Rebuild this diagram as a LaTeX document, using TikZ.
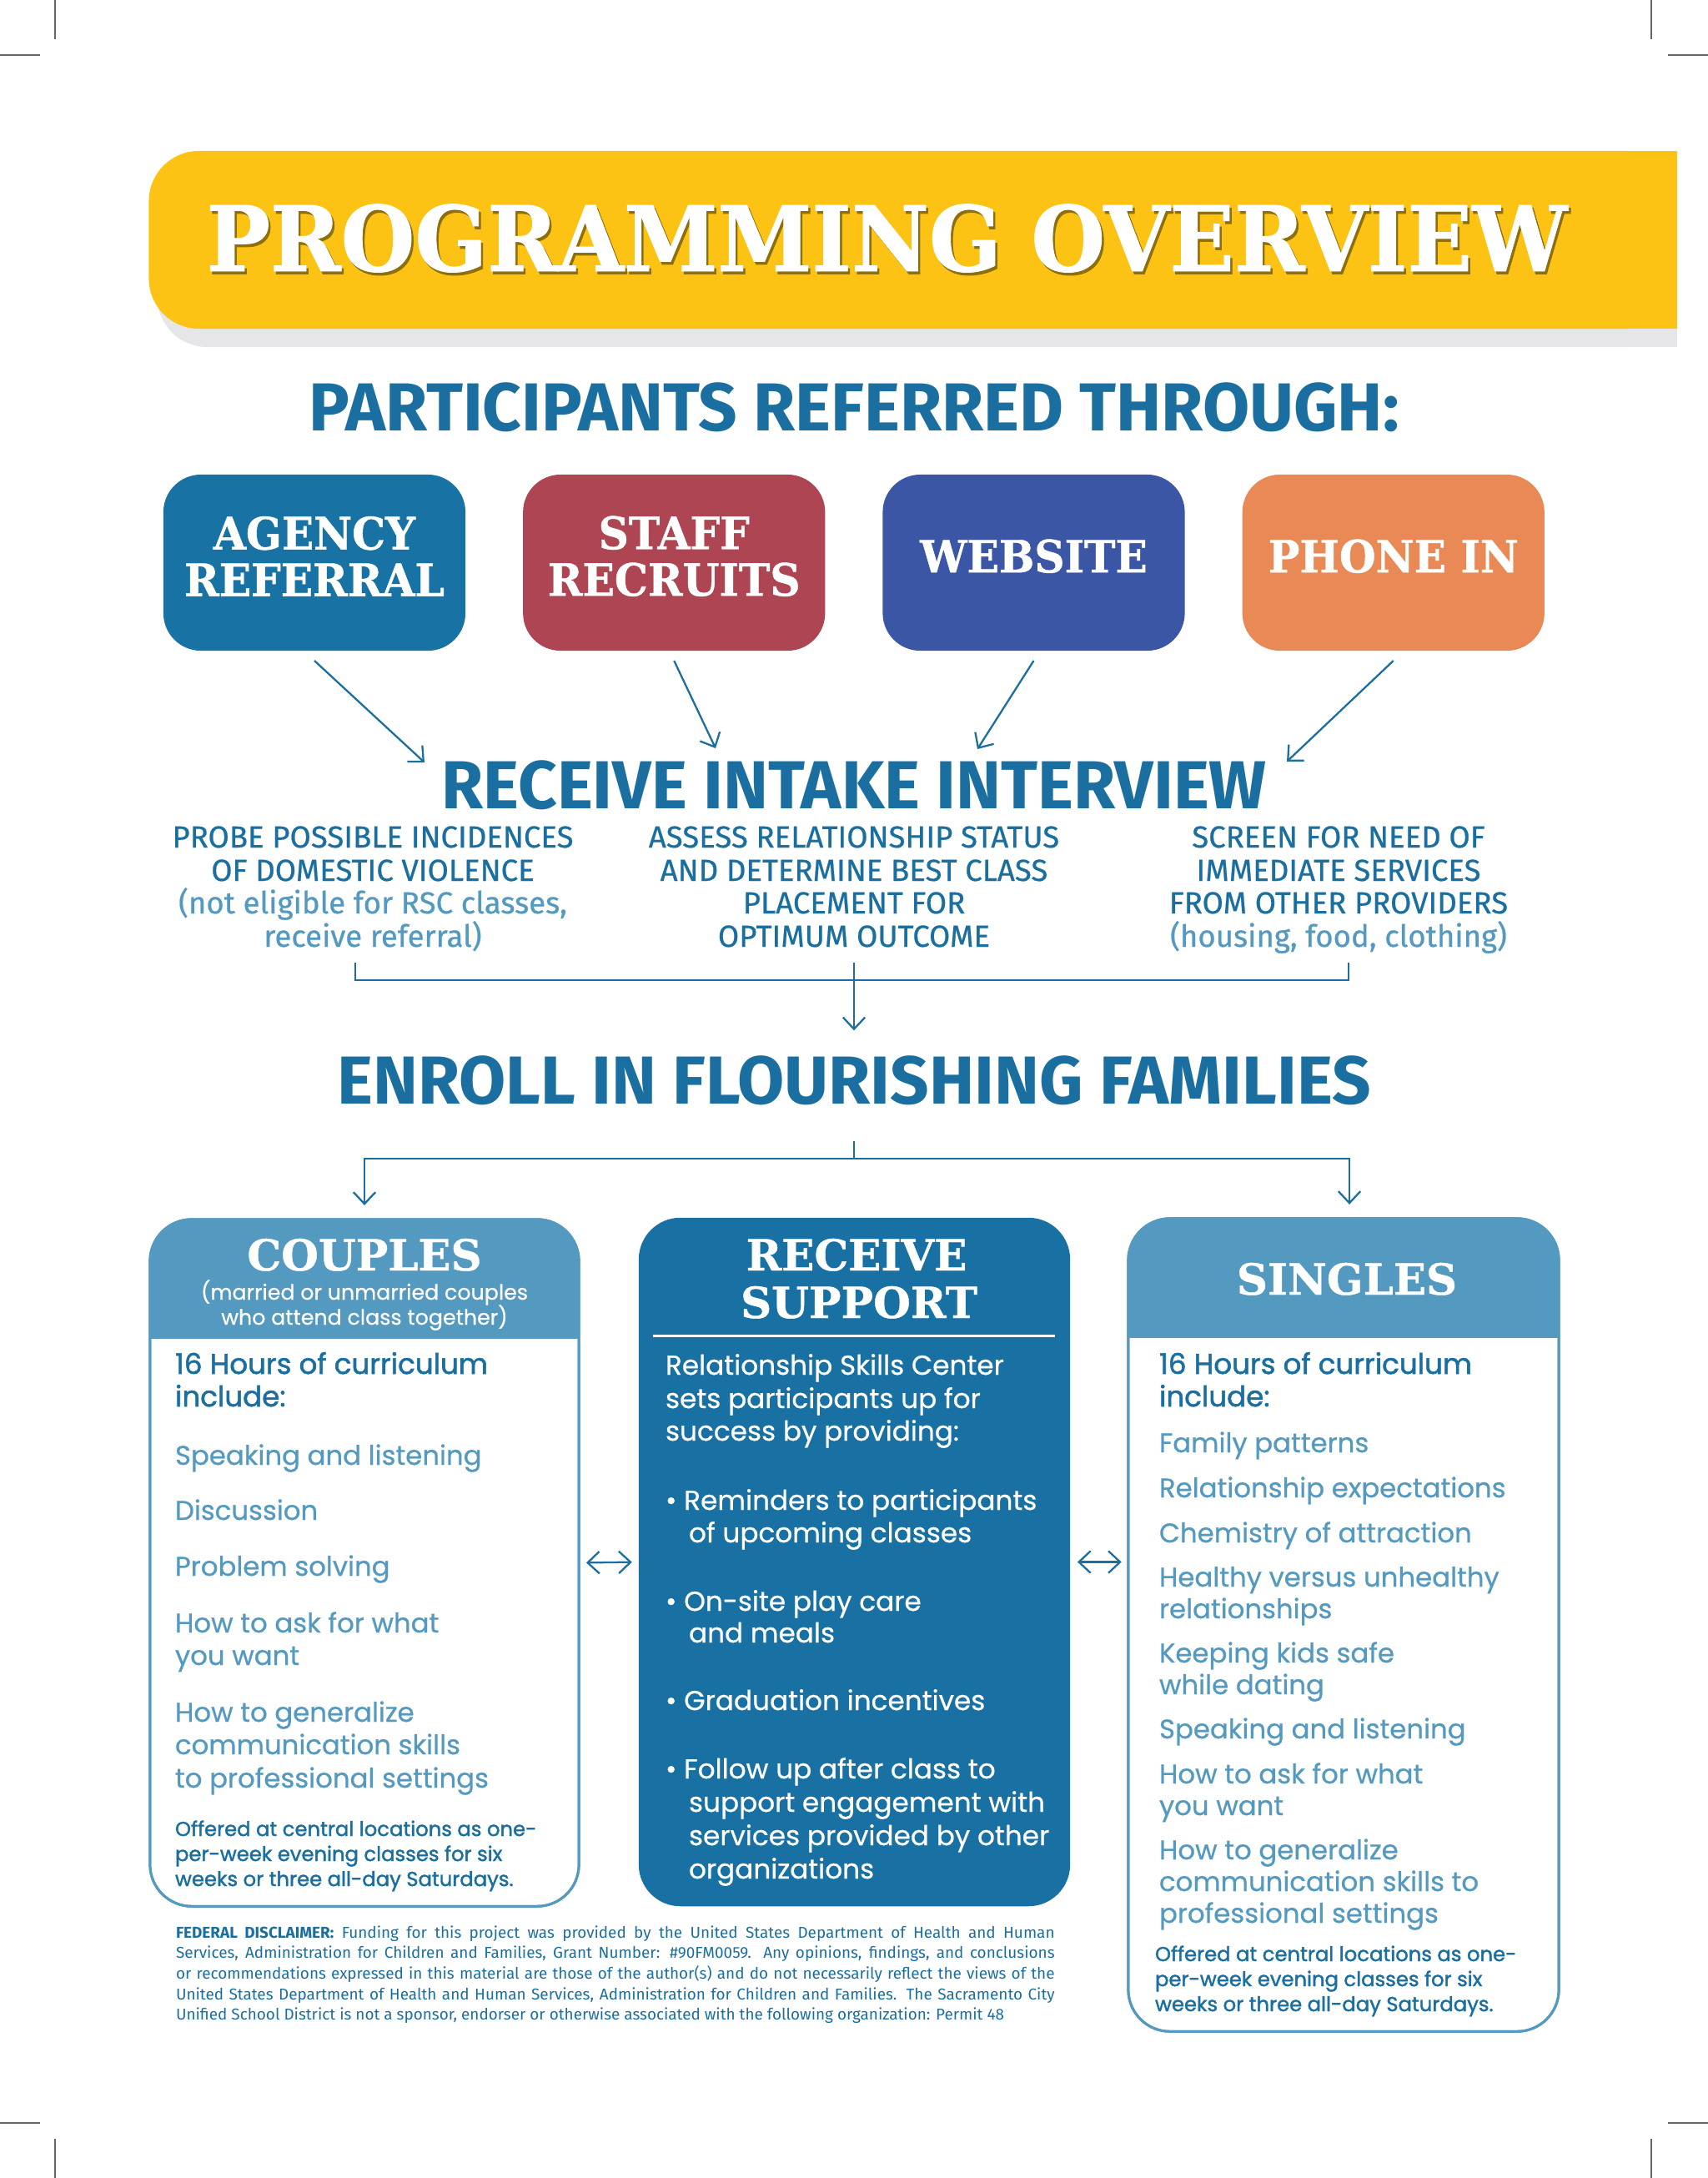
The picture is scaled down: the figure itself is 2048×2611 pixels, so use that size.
\documentclass[tikz,border=0pt]{standalone}
\usepackage{fontspec}
\setmainfont{Poppins}
\newfontfamily\slabfont{DejaVu Serif}[FakeStretch=0.94, FakeBold=0.8]
\newfontfamily\slabwide{DejaVu Serif}[FakeBold=0.8]
\newfontfamily\headfont{Fira Sans}
\newfontfamily\capsfont{Fira Sans}[FakeBold=0.6]
\newfontfamily\medfont{Poppins}[FakeBold=0.6]
\newfontfamily\semifont{Poppins}[FakeBold=1.6]
\usetikzlibrary{arrows.meta, positioning, calc}

\definecolor{bannerc}{HTML}{FCC314}
\definecolor{bannershade}{HTML}{E6E6E8}
\definecolor{titleshade}{HTML}{8E6F0E}
\definecolor{agencyc}{HTML}{1872A4}
\definecolor{staffc}{HTML}{AD4552}
\definecolor{webc}{HTML}{3B56A5}
\definecolor{phonec}{HTML}{E98A56}
\definecolor{inkc}{HTML}{1A6FA0}
\definecolor{softc}{HTML}{5499BF}
\definecolor{supportc}{HTML}{1870A3}
\definecolor{cropc}{HTML}{666666}

\begin{document}
\begin{tikzpicture}[
        x=0.01cm, y=-0.01cm,
        every node/.style={inner sep=0pt, outer sep=0pt},
        titletext/.style={anchor=base, text=white, font=\slabfont\bfseries\fontsize{30.8}{32}\selectfont},
        srcbox/.style={rounded corners=0.45cm, minimum width=3.62cm, minimum height=2.11cm},
        srctext/.style={text=white, align=center, font=\slabfont\bfseries\fontsize{15.2}{15.9}\selectfont},
        heading/.style={anchor=base, text=inkc, font=\headfont\bfseries\fontsize{23.15}{24}\selectfont},
        subline/.style={anchor=base, text=inkc, font=\capsfont\fontsize{10.4}{11}\selectfont},
        softline/.style={subline, text=softc},
        conn/.style={draw=inkc, line width=0.65pt, -{Straight Barb[length=4pt, width=7.5pt]}},
        dbl/.style={conn, {Straight Barb[length=4pt, width=7.5pt]}-{Straight Barb[length=4pt, width=7.5pt]}},
        bracket/.style={draw=inkc, line width=0.65pt},
        classbox/.style={draw=softc, line width=0.85pt, rounded corners=0.5cm},
        classtitle/.style={anchor=base, text=white, font=\slabwide\bfseries\fontsize{14.6}{16.2}\selectfont},
        classsub/.style={anchor=base, text=white, font=\medfont\fontsize{7.2}{8}\selectfont},
        lead/.style={anchor=base west, text=inkc, font=\semifont\fontsize{9.7}{11}\selectfont},
        item/.style={anchor=base west, text=softc, font=\medfont\fontsize{9.2}{11}\selectfont},
        note/.style={anchor=base west, text=inkc, font=\semifont\fontsize{6.9}{8}\selectfont},
        supline/.style={anchor=base west, text=white, font=\medfont\fontsize{9.3}{11}\selectfont}
    ]
    \useasboundingbox (0,0) rectangle (2048,2611);

    % Crop marks
    \foreach \cx/\cy in {66/0, 1980/0, 66/2564, 1980/2564}
        \draw[cropc, line width=0.4pt] (\cx,\cy) -- ++(0,47);
    \foreach \cx/\cy in {0/66, 2000/66, 0/2545, 2000/2545}
        \draw[cropc, line width=0.8pt] (\cx,\cy) -- ++(48,0);

    % Banner
    \node[fill=bannershade, rounded corners=0.6cm, minimum width=18.21cm, minimum height=2.13cm] (banner-shade) at (1099.5,309.5) {};
    \fill[bannershade] (banner-shade.north) rectangle (banner-shade.south east);
    \node[fill=bannerc, rounded corners=0.6cm, minimum width=18.31cm, minimum height=2.13cm] (banner) at (1094.5,287.5) {};
    \fill[bannerc] (banner.north) rectangle (banner.south east);
    \node[titletext, text=titleshade] (title-shade) at (1066,328.5) {PROGRAMMING OVERVIEW};
    \node[titletext] (title) at (1063.5,325) {PROGRAMMING OVERVIEW};

    \node[heading] (participants) at (1024,516) {PARTICIPANTS REFERRED THROUGH:};

    % Referral sources
    \node[srcbox, fill=agencyc] (agency) at (377,674.5) {};
    \node[srcbox, fill=staffc, right=0.69cm of agency] (staff) {};
    \node[srcbox, fill=webc, right=0.69cm of staff] (website) {};
    \node[srcbox, fill=phonec, right=0.69cm of website] (phone) {};
    \node[srctext] (agency-txt) at ([yshift=2.2pt]agency.center) {AGENCY\\REFERRAL};
    \node[srctext] (staff-txt) at ([yshift=2.2pt]staff.center) {STAFF\\RECRUITS};
    \node[srctext] (website-txt) at ([yshift=2.2pt]website.center) {WEBSITE};
    \node[srctext] (phone-txt) at ([yshift=2.2pt]phone.center) {PHONE IN};

    % Intake
    \node[heading] (intake) at (1024,969) {RECEIVE INTAKE INTERVIEW};
    \coordinate (agency-end) at (509,914);
    \coordinate (staff-end) at (858,897);
    \coordinate (website-end) at (1172,898);
    \coordinate (phone-end) at (1543,913);
    \foreach \src in {agency, staff, website, phone}
        \draw[conn] ([yshift=-3.4pt]\src.south) -- (\src-end);

    \foreach \yy/\txt [count=\i] in {1016/PROBE POSSIBLE INCIDENCES, 1056/OF DOMESTIC VIOLENCE}
        \node[subline] (probe-\i) at (447,\yy) {\txt};
    \foreach \yy/\txt [count=\i] in {1095/{(not eligible for RSC classes,}, 1135/receive referral)}
        \node[softline] (probe-note-\i) at (447,\yy) {\txt};
    \foreach \yy/\txt [count=\i] in {1016/ASSESS RELATIONSHIP STATUS, 1056/AND DETERMINE BEST CLASS,
            1095/PLACEMENT FOR, 1135/OPTIMUM OUTCOME}
        \node[subline] (assess-\i) at (1024,\yy) {\txt};
    \foreach \yy/\txt [count=\i] in {1016/SCREEN FOR NEED OF, 1056/IMMEDIATE SERVICES, 1095/FROM OTHER PROVIDERS}
        \node[subline] (screen-\i) at (1605,\yy) {\txt};
    \node[softline] (screen-note) at (1605,1135) {(housing, food, clothing)};

    % Bracket to enrolment
    \node[heading] (enroll) at (1024,1323) {ENROLL IN FLOURISHING FAMILIES};
    \coordinate (probe-foot) at (426,1154);
    \coordinate (assess-foot) at (1024,1154);
    \coordinate (screen-foot) at (1617,1154);
    \coordinate (fork-l) at (426,1175);
    \coordinate (fork-r) at (1617,1175);
    \draw[bracket] (probe-foot) -- (fork-l) -- (fork-r) -- (screen-foot);
    \draw[conn] (assess-foot) -- ([yshift=8.5pt]enroll.north);

    % Class boxes
    \node[classbox, minimum width=5.14cm, minimum height=8.23cm] (couples) at (437,1873.5) {};
    \node[fill=supportc, rounded corners=0.5cm, minimum width=5.17cm, minimum height=8.25cm] (support) at (1024.5,1872.5) {};
    \node[classbox, minimum width=5.16cm, minimum height=9.74cm] (singles) at (1611,1948) {};
    \foreach \cls in {couples, singles} {
        \begin{scope}
            \clip[rounded corners=0.5cm] (\cls.north west) rectangle (\cls.south east);
            \fill[softc] (\cls.north west) rectangle ($(\cls.north east)+(0,143)$);
        \end{scope}
        \draw[classbox] (\cls.north west) rectangle (\cls.south east);
    }
    \draw[white, line width=0.85pt] ($(support.north west)+(17,142)$) -- ($(support.north east)+(-18,142)$);

    \coordinate (enroll-fork) at (1024,1389);
    \draw[bracket] ([yshift=-12.5pt]enroll.south) -- (enroll-fork);
    \draw[conn] (enroll-fork) -| ([yshift=4.8pt]couples.north);
    \draw[conn] (enroll-fork) -| ([xshift=2pt, yshift=4.8pt]singles.north);
    \draw[dbl, shorten <=2.5pt, shorten >=2.3pt] (couples.east) -- (support.west);
    \draw[dbl, shorten <=2.5pt, shorten >=2.3pt] (support.east) -- (support.east -| singles.west);

    % Couples
    \node[classtitle] (couples-title) at (437,1523) {COUPLES};
    \node[classsub] (couples-sub-1) at (437,1558) {(married or unmarried couples};
    \node[classsub] (couples-sub-2) at (437,1588) {who attend class together)};
    \foreach \yy/\txt [count=\i] in {1647/16 Hours of curriculum, 1686/include:}
        \node[lead] (couples-lead-\i) at (210,\yy) {\txt};
    \foreach \yy/\txt [count=\i] in {1756/Speaking and listening, 1822/Discussion, 1889/Problem solving,
            1957/How to ask for what, 1996/you want, 2064/How to generalize,
            2103/communication skills, 2143/to professional settings}
        \node[item] (couples-item-\i) at (210,\yy) {\txt};
    \foreach \yy/\txt [count=\i] in {2201/Offered at central locations as one-,
            2231/per-week evening classes for six, 2261/weeks or three all-day Saturdays.}
        \node[note] (couples-note-\i) at (210,\yy) {\txt};

    % Support
    \node[classtitle] (support-title-1) at (1027,1523) {RECEIVE};
    \node[classtitle] (support-title-2) at (1030,1580) {SUPPORT};
    \foreach \xx/\yy/\txt [count=\i] in {798/1648/Relationship Skills Center, 798/1688/sets participants up for,
            798/1727/success by providing:, 798/1810/• Reminders to participants, 826/1849/of upcoming classes,
            798/1931/• On-site play care, 826/1969/and meals, 798/2050/• Graduation incentives,
            798/2132/• Follow up after class to, 826/2172/support engagement with,
            826/2212/services provided by other, 826/2252/organizations}
        \node[supline] (support-line-\i) at (\xx,\yy) {\txt};

    % Singles
    \node[classtitle] (singles-title) at (1615,1552) {SINGLES};
    \foreach \yy/\txt [count=\i] in {1647/16 Hours of curriculum, 1686/include:}
        \node[lead] (singles-lead-\i) at (1390,\yy) {\txt};
    \foreach \yy/\txt [count=\i] in {1741/Family patterns, 1795/Relationship expectations,
            1849/Chemistry of attraction, 1902/Healthy versus unhealthy, 1940/relationships,
            1993/Keeping kids safe, 2031/while dating, 2084/Speaking and listening,
            2138/How to ask for what, 2176/you want, 2229/How to generalize,
            2267/communication skills to, 2305/professional settings}
        \node[item] (singles-item-\i) at (1390,\yy) {\txt};
    \foreach \yy/\txt [count=\i] in {2351/Offered at central locations as one-,
            2381/per-week evening classes for six, 2411/weeks or three all-day Saturdays.}
        \node[note] (singles-note-\i) at (1385,\yy) {\txt};

    % Disclaimer
    \node[anchor=base west, text width=10.53cm, align=justify, text=inkc,
        font=\headfont\fontsize{5.38}{7.03}\selectfont] (disclaimer) at (211,2323)
        {\hyphenpenalty=10000\textbf{FEDERAL DISCLAIMER:} Funding for this project was provided by the United States Department of Health and Human\linebreak
        Services, Administration for Children and Families, Grant Number: \#90FM0059. Any opinions, findings, and conclusions\linebreak
        or recommendations expressed in this material are those of the author(s) and do not necessarily reflect the views of the\linebreak
        United States Department of Health and Human Services, Administration for Children and Families. The Sacramento City\linebreak
        Unified School District is not a sponsor, endorser or otherwise associated with the following organization: Permit 48};

\end{tikzpicture}
\end{document}
